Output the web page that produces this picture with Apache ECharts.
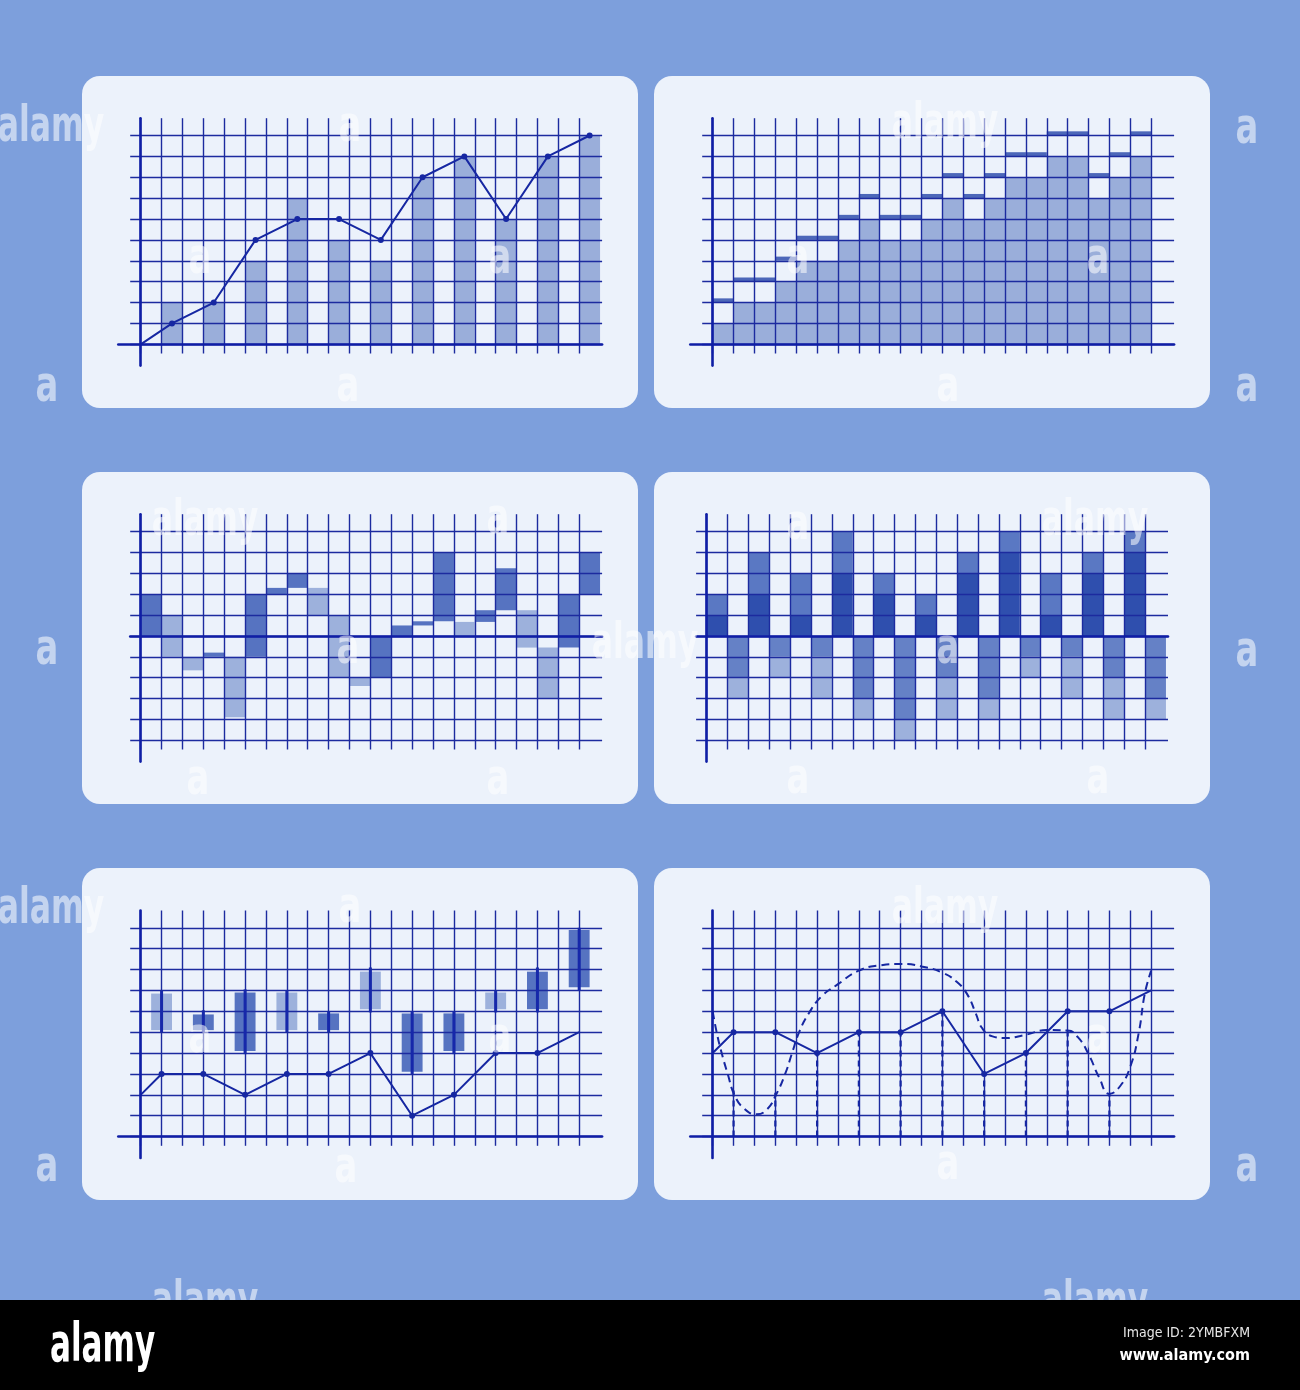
<!DOCTYPE html>
<html><head><meta charset="utf-8">
<script src="https://cdn.jsdelivr.net/npm/echarts@6/dist/echarts.min.js"></script>
<style>html,body{margin:0;padding:0;background:#7d9fdc}#c{width:1300px;height:1390px}</style>
</head><body><div id="c"></div>
<script>
// ================= DATA =================
// Panel 1: bars + polyline
const p1BarCols = [1,3,5,7,9,11,13,15,17,19,21];
const p1BarVals = [2,2,4,7,5,4,8,9,6,9,10];
const p1LineX = [0,1.5,3.5,5.5,7.5,9.5,11.5,13.5,15.5,17.5,19.5,21.5];
const p1LineY = [0,1,2,5,6,6,5,8,9,6,9,10];

// Panel 2: stepped bars with caps
const p2Fill = [1,2,2,3,4,4,5,6,5,5,6,7,6,7,8,8,9,9,7,8,9];
const p2Cap  = [2,3,3,4,5,5,6,7,6,6,7,8,7,8,9,9,10,10,8,9,10];

// Panel 3: floating bars (low, high, tone)
const p3Low  = [0,-1,-1.65,-1,-3.9,-1,2,2.3,1,-2,-2.4,-2,0,0.5,0.7,0,0.67,1.23,-0.56,-3,-0.56,2];
const p3High = [2,1,-1,-0.8,-1,2,2.3,3,2.3,1,-2,0,0.5,0.7,4,0.67,1.23,3.24,1.23,-0.56,2,4];
const p3Tone = ['d','l','l','d','l','d','d','d','l','l','l','d','d','d','d','l','d','d','l','l','d','d'];

// Panel 4: alternating positive / negative two-tone bars
const p4PosCols  = [0,2,4,6,8,10,12,14,16,18,20];
const p4PosTotal = [2,4,3,5,3,2,4,5,3,4,5];
const p4PosInner = [1,2,1,3,2,1,3,4,1,3,4];
const p4NegCols  = [1,3,5,7,9,11,13,15,17,19,21];
const p4NegTotal = [-3,-2,-3,-4,-5,-4,-4,-2,-3,-4,-4];
const p4NegInner = [-2,-1,-1,-3,-4,-2,-3,-1,-1,-2,-3];

// Panel 5: candles + polyline
const p5BoxX     = [1,3,5,7,9,11,13,15,17,19,21];
const p5BoxLow   = [5.1,5.1,4.1,5.1,5.1,6.1,3.1,4.1,6.1,6.1,7.15];
const p5BoxHigh  = [6.85,5.85,6.9,6.9,5.9,7.9,5.9,5.9,6.9,7.9,9.9];
const p5WickLow  = [5,5,3.95,5,5,5.95,3,3.95,5.95,5.95,7];
const p5WickHigh = [7,6.05,7.05,7,6,8.1,6,6,7,8.1,10];
const p5Tone     = ['l','d','d','l','d','l','d','d','l','d','d'];
const p5LineX = [0,1,3,5,7,9,11,13,15,17,19,21];
const p5LineY = [2,3,3,2,3,3,4,1,2,4,4,5];

// Panel 6: polyline + dashed curve + dashed drop lines
const p6LineX = [0,1,3,5,7,9,11,13,15,17,19,21];
const p6LineY = [4,5,5,4,5,5,6,3,4,6,6,7];
const p6CurveX = [0,0.19,0.43,0.72,1.04,1.5,2.1,2.6,3.03,3.47,3.8,4.14,4.6,5.2,6,7,8,9,10,11,11.7,12.2,12.6,12.9,13.4,14,15,16,17,17.5,18,18.5,19,19.5,20,20.4,20.7,21];
const p6CurveY = [6,5,4,3,2,1.35,1.07,1.3,2,3,4,5,5.9,6.7,7.3,7.95,8.2,8.27,8.15,7.85,7.4,6.8,5.9,5.2,4.8,4.72,4.88,5.1,5.08,4.75,3.95,2.85,2.05,2.4,3.35,4.95,6.87,7.95];
const p6DropX   = [1,3,5,7,9,11,13,15,17,19];
const p6DropTop = [2.4,2.1,4,5,5,6,3,4,5.05,2.05];

// ================= STYLE / LAYOUT =================
const C = {
  bg:'#7d9fdc', panel:'#ecf2fb', grid:'#1c2b9f', axis:'#0f1ea5', line:'#1627a2',
  light:'#9aaeda', cap:'#4c67b9', dark3:'#5673c1', light3:'#9db1dc',
  posIn:'#2f4fae', posOut:'#5a78c3', negIn:'#6581c6', negOut:'#9db1dc',
  boxD:'#5673c1', boxL:'#9db1dc', wick:'#1628aa'
};
const CELL = 20.88;
const CAP_T = 0.2, BOX_HALF = 0.5;
const PANELS = [
  {bx:82,  by:76,  ax:140.7, base:344.3,  ymin:0},
  {bx:654, by:76,  ax:712.7, base:344.3,  ymin:0},
  {bx:82,  by:472, ax:140.7, base:740.3,  ymin:-5},
  {bx:654, by:472, ax:706.6, base:740.3,  ymin:-5},
  {bx:82,  by:868, ax:140.7, base:1136.6, ymin:0},
  {bx:654, by:868, ax:712.7, base:1136.6, ymin:0}
];
const GRIDLINE = {color:C.grid, width:1.4};
const AXISLINE = {color:C.axis, width:2.6};

const grids = [], xAxes = [], yAxes = [], series = [], elements = [];

function axisBase(gi, extra){
  return Object.assign({gridIndex:gi, type:'value', axisLine:{show:false}, axisTick:{show:false},
    axisLabel:{show:false}, splitLine:{show:false}, splitArea:{show:false}}, extra);
}
function addGrid(rect, xa, ya){
  const gi = grids.length;
  grids.push(Object.assign({show:false, containLabel:false, outerBoundsMode:'none'}, rect));
  xAxes.push(axisBase(gi, xa));
  yAxes.push(axisBase(gi, ya));
  return gi;
}
function buildPanel(P){
  const top = P.base - 10*CELL;
  const ymax = P.ymin + 10;
  elements.push({type:'rect', z:0, shape:{x:P.bx, y:P.by, width:556, height:332, r:18}, style:{fill:C.panel}});
  // vertical grid lines
  addGrid({left:P.ax, top:top-17.3, width:21*CELL, height:10*CELL+17.3+9.2},
    {min:0, max:21, interval:1, z:3, splitLine:{show:true, lineStyle:GRIDLINE}},
    {min:0, max:1});
  // horizontal grid lines
  addGrid({left:P.ax-10.5, top:top, width:471.9, height:10*CELL},
    {min:0, max:1},
    {min:P.ymin, max:ymax, interval:1, z:3, splitLine:{show:true, lineStyle:GRIDLINE}});
  // thick y axis
  addGrid({left:P.ax, top:top-17.3, width:10, height:10*CELL+17.3+21.3},
    {min:0, max:1},
    {min:0, max:1, z:8, axisLine:{show:true, onZero:false, lineStyle:AXISLINE}});
  // thick x axis / zero line
  const zeroY = P.base + P.ymin*CELL;
  const xl = P.ymin === 0 ? P.ax-22.4 : P.ax-10.5;
  addGrid({left:xl, top:zeroY-10, width:P.ax+461.4-xl, height:10},
    {min:0, max:1, z:8, axisLine:{show:true, onZero:false, lineStyle:AXISLINE}},
    {min:0, max:1});
  // data grid
  return addGrid({left:P.ax, top:top, width:22*CELL, height:10*CELL},
    {min:0, max:22}, {min:P.ymin, max:ymax});
}
function rectSeries(gi, items, fill, z){
  series.push({type:'custom', xAxisIndex:gi, yAxisIndex:gi, z:z||1, clip:false, silent:true,
    encode:{x:[0,1], y:[2,3]}, data:items,
    renderItem:function(params, api){
      const a = api.coord([api.value(0), api.value(2)]);
      const b = api.coord([api.value(1), api.value(3)]);
      return {type:'rect', shape:{x:Math.min(a[0],b[0]), y:Math.min(a[1],b[1]),
        width:Math.abs(b[0]-a[0]), height:Math.abs(b[1]-a[1])}, style:{fill:fill}};
    }});
}
function segSeries(gi, items, stroke, width, dash, z){
  series.push({type:'custom', xAxisIndex:gi, yAxisIndex:gi, z:z||6, clip:false, silent:true,
    encode:{x:0, y:[1,2]}, data:items,
    renderItem:function(params, api){
      const a = api.coord([api.value(0), api.value(1)]);
      const b = api.coord([api.value(0), api.value(2)]);
      return {type:'line', shape:{x1:a[0], y1:a[1], x2:b[0], y2:b[1]},
        style:{stroke:stroke, lineWidth:width, lineDash:dash||null}};
    }});
}
function polyline(gi, xs, ys, noDot){
  series.push({type:'line', xAxisIndex:gi, yAxisIndex:gi, z:5, clip:false, silent:true,
    symbol:'circle', symbolSize:6, showSymbol:true,
    lineStyle:{color:C.line, width:2}, itemStyle:{color:C.line},
    data:xs.map((x,i)=>({value:[x, ys[i]], symbol: noDot.indexOf(i)>=0 ? 'none' : 'circle'}))});
}

// ---- panel 1
let g = buildPanel(PANELS[0]);
rectSeries(g, p1BarCols.map((c,i)=>[c, c+1, 0, p1BarVals[i]]), C.light);
polyline(g, p1LineX, p1LineY, [0]);

// ---- panel 2
g = buildPanel(PANELS[1]);
rectSeries(g, p2Fill.map((v,i)=>[i, i+1, 0, v]), C.light);
rectSeries(g, p2Cap.map((v,i)=>[i, i+1, v, v+CAP_T]), C.cap);

// ---- panel 3
g = buildPanel(PANELS[2]);
const p3Items = p3Low.map((lo,i)=>[i, i+1, lo, p3High[i]]);
rectSeries(g, p3Items.filter((_,i)=>p3Tone[i]==='l'), C.light3);
rectSeries(g, p3Items.filter((_,i)=>p3Tone[i]==='d'), C.dark3);

// ---- panel 4
g = buildPanel(PANELS[3]);
rectSeries(g, p4PosCols.map((c,i)=>[c, c+1, 0, p4PosInner[i]]), C.posIn);
rectSeries(g, p4PosCols.map((c,i)=>[c, c+1, p4PosInner[i], p4PosTotal[i]]), C.posOut);
rectSeries(g, p4NegCols.map((c,i)=>[c, c+1, 0, p4NegInner[i]]), C.negIn);
rectSeries(g, p4NegCols.map((c,i)=>[c, c+1, p4NegInner[i], p4NegTotal[i]]), C.negOut);

// ---- panel 5
g = buildPanel(PANELS[4]);
const p5Boxes = p5BoxX.map((x,i)=>[x-BOX_HALF, x+BOX_HALF, p5BoxLow[i], p5BoxHigh[i]]);
rectSeries(g, p5Boxes.filter((_,i)=>p5Tone[i]==='l'), C.boxL);
rectSeries(g, p5Boxes.filter((_,i)=>p5Tone[i]==='d'), C.boxD);
segSeries(g, p5BoxX.map((x,i)=>[x, p5WickLow[i], p5WickHigh[i]]), C.wick, 3, null, 6);
polyline(g, p5LineX, p5LineY, [0, p5LineX.length-1]);

// ---- panel 6
g = buildPanel(PANELS[5]);
segSeries(g, p6DropX.map((x,i)=>[x, 0, p6DropTop[i]]), C.line, 2.2, [6,4], 4);
series.push({type:'line', xAxisIndex:g, yAxisIndex:g, z:5, clip:false, silent:true, smooth:0.5,
  symbol:'none', lineStyle:{color:C.line, width:2, type:[8,5]},
  data:p6CurveX.map((x,i)=>[x, p6CurveY[i]])});
polyline(g, p6LineX, p6LineY, [0, p6LineX.length-1]);

// ---- watermark texts
const WM = 'rgba(255,255,255,0.55)';
const WMFONT = 'bold 50px "Liberation Sans Narrow","DejaVu Sans Condensed",sans-serif';
const wmWords = [[51,125],[945,122],[205,519],[1095,519],[645,642],[51,907],[945,907],[205,1300],[1095,1300]];
const wmLetters = [[350,125],[1247,127],[200,257],[500,257],[798,257],[1098,257],[47,385],[348,385],[948,385],[1247,385],
  [498,517],[798,523],[47,648],[348,647],[948,647],[1247,650],[198,778],[498,778],[798,777],[1098,777],
  [350,906],[200,1036],[500,1036],[1098,1036],[47,1165],[346,1166],[948,1163],[1247,1165]];
wmWords.forEach(p=>elements.push({type:'text', z:50, x:p[0], y:p[1]+3, scaleX:0.7, silent:true,
  style:{text:'alamy', fill:WM, font:WMFONT, textAlign:'center', textVerticalAlign:'middle'}}));
wmLetters.forEach(p=>elements.push({type:'text', z:50, x:p[0], y:p[1]+3, scaleX:0.75, silent:true,
  style:{text:'a', fill:WM, font:WMFONT, textAlign:'center', textVerticalAlign:'middle'}}));

// ---- bottom black bar
elements.push({type:'rect', z:60, shape:{x:0, y:1300, width:1300, height:90}, style:{fill:'#000'}});
elements.push({type:'text', z:61, x:50, y:1347, scaleX:0.64,
  style:{text:'alamy', fill:'#fff', font:'bold 54px "Liberation Sans Narrow","DejaVu Sans Condensed",sans-serif', textAlign:'left', textVerticalAlign:'middle'}});
elements.push({type:'text', z:61, x:1250, y:1333,
  style:{text:'Image ID: 2YMBFXM', fill:'#e6e6e6', font:'14px "DejaVu Sans Condensed","Liberation Sans Narrow",sans-serif', textAlign:'right', textVerticalAlign:'middle'}});
elements.push({type:'text', z:61, x:1250, y:1356,
  style:{text:'www.alamy.com', fill:'#ffffff', font:'bold 16px "DejaVu Sans Condensed","Liberation Sans Narrow",sans-serif', textAlign:'right', textVerticalAlign:'middle'}});

const chart = echarts.init(document.getElementById('c'), null, {renderer:'canvas', width:1300, height:1390});
chart.setOption({
  animation:false, backgroundColor:C.bg,
  grid:grids, xAxis:xAxes, yAxis:yAxes, series:series,
  graphic:{elements:elements}
});
</script>
</body></html>
